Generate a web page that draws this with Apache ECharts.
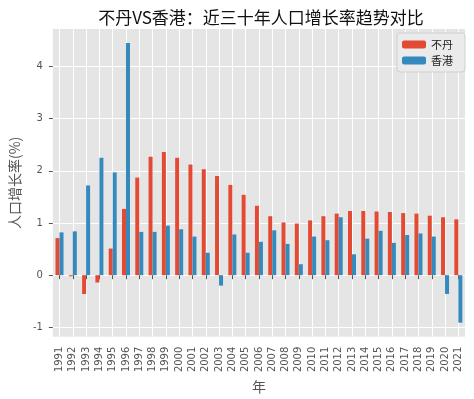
<!DOCTYPE html>
<html>
<head>
<meta charset="utf-8">
<script src="https://cdn.jsdelivr.net/npm/echarts@6/dist/echarts.min.js"></script>
<style>
  html, body { margin: 0; padding: 0; background: #fff; }
  #main { width: 474px; height: 399px; }
</style>
</head>
<body>
<div id="main"></div>
<script>
'use strict';
// 年份
var years = ['1991','1992','1993','1994','1995','1996','1997','1998','1999','2000',
             '2001','2002','2003','2004','2005','2006','2007','2008','2009','2010',
             '2011','2012','2013','2014','2015','2016','2017','2018','2019','2020','2021'];
// 不丹 人口增长率(%)
var bhutan = [0.71, -0.02, -0.36, -0.14, 0.51, 1.27, 1.87, 2.27, 2.36, 2.25,
              2.12, 2.03, 1.90, 1.73, 1.54, 1.33, 1.13, 1.01, 0.99, 1.05,
              1.13, 1.18, 1.23, 1.23, 1.22, 1.21, 1.19, 1.18, 1.14, 1.11, 1.07];
// 香港 人口增长率(%)
var hongkong = [0.82, 0.84, 1.72, 2.25, 1.97, 4.45, 0.83, 0.83, 0.95, 0.88,
                0.74, 0.43, -0.20, 0.78, 0.43, 0.64, 0.86, 0.60, 0.21, 0.74,
                0.67, 1.11, 0.40, 0.70, 0.85, 0.62, 0.77, 0.80, 0.74, -0.36, -0.91];
var yTicks = [-1, 0, 1, 2, 3, 4];

var cjk = '"Noto Sans CJK SC", "DejaVu Sans", sans-serif';
var num = '"DejaVu Sans", sans-serif';

var chart = echarts.init(document.getElementById('main'));
chart.setOption({
    animation: false,
    backgroundColor: '#ffffff',
    title: {
        text: '不丹VS香港：近三十年人口增长率趋势对比',
        left: 256, textAlign: 'center', top: 4,
        textStyle: { fontFamily: cjk, fontSize: 17, fontWeight: 'normal', color: '#111' }
    },
    legend: {
        orient: 'vertical', right: 9, top: 33,
        itemWidth: 24, itemHeight: 8, itemGap: 5,
        padding: [6, 12, 6, 5],
        backgroundColor: '#ebebeb', borderColor: '#d0d0d0', borderWidth: 1, borderRadius: 3,
        textStyle: { fontFamily: cjk, fontSize: 11, color: '#222' },
        data: ['不丹', '香港']
    },
    grid: { left: 46, right: 9, top: 29, bottom: 58, show: true, backgroundColor: '#e5e5e5', borderWidth: 0 },
    xAxis: {
        type: 'category', data: years,
        name: '年', nameLocation: 'middle', nameGap: 36,
        nameTextStyle: { fontFamily: cjk, fontSize: 14, color: '#555' },
        axisLine: { show: false },
        axisTick: { show: true, alignWithLabel: true, length: 4, lineStyle: { color: '#555' } },
        axisLabel: { rotate: 90, interval: 0, margin: 10, fontFamily: num, fontSize: 10, color: '#555' },
        splitLine: { show: true, alignWithLabel: true, lineStyle: { color: '#ffffff', width: 1 } }
    },
    yAxis: {
        type: 'value', min: -1.178, max: 4.718,
        name: '人口增长率(%)', nameLocation: 'middle', nameGap: 16, nameRotate: 90,
        nameTextStyle: { fontFamily: cjk, fontSize: 14, color: '#555' },
        axisLine: { show: false },
        axisTick: { show: true, length: 4, customValues: yTicks, lineStyle: { color: '#555' } },
        axisLabel: { margin: 10, customValues: yTicks, fontFamily: num, fontSize: 10, color: '#555' },
        splitLine: { show: true, lineStyle: { color: '#ffffff', width: 1 } }
    },
    series: [
        { name: '不丹', type: 'bar', data: bhutan, barWidth: 4, barGap: '0%',
          itemStyle: { color: '#E24A33' } },
        { name: '香港', type: 'bar', data: hongkong, barWidth: 4, barGap: '0%',
          itemStyle: { color: '#348ABD' } }
    ]
});
</script>
</body>
</html>
